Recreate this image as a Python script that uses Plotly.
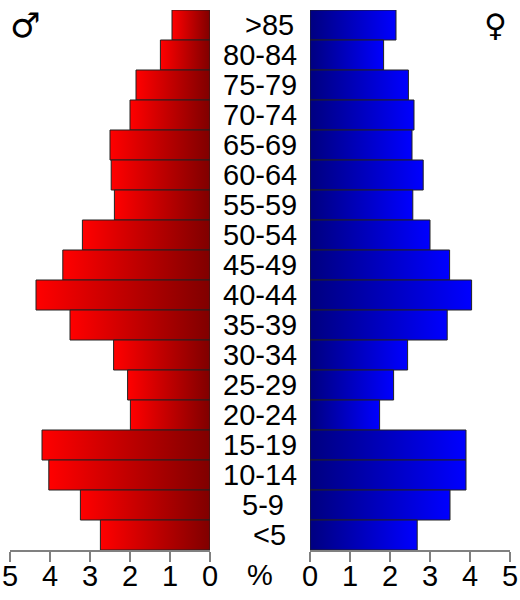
import plotly.graph_objects as go

# age groups, top of the pyramid first
age_groups = [">85", "80-84", "75-79", "70-74", "65-69", "60-64", "55-59", "50-54", "45-49",
              "40-44", "35-39", "30-34", "25-29", "20-24", "15-19", "10-14", "5-9", "<5"]
# percent of population
male = [0.95, 1.24, 1.85, 2.0, 2.5, 2.47, 2.39, 3.19, 3.68,
        4.35, 3.5, 2.41, 2.06, 1.99, 4.2, 4.03, 3.24, 2.74]
female = [2.15, 1.84, 2.46, 2.6, 2.55, 2.83, 2.57, 3.0, 3.49,
          4.04, 3.43, 2.44, 2.09, 1.74, 3.9, 3.9, 3.5, 2.68]
ticks = [0, 1, 2, 3, 4, 5]

FONT = "Liberation Sans, Arial, sans-serif"
fig = go.Figure()


def add_bar(value, row, xaxis, scale):
    # one filled rectangle per bar so every bar gets its own gradient
    y0, y1 = row - 0.5, row + 0.5
    fig.add_trace(go.Scatter(
        x=[0, value, value, 0, 0], y=[y0, y0, y1, y1, y0],
        xaxis=xaxis, yaxis="y", mode="lines", fill="toself",
        line=dict(color="#222222", width=1),
        fillgradient=dict(type="horizontal", colorscale=scale),
        hoverinfo="skip", showlegend=False))


for i, v in enumerate(male):
    add_bar(v, i, "x", [[0, "#ff0000"], [1, "#800000"]])
for i, v in enumerate(female):
    add_bar(v, i, "x2", [[0, "#000080"], [1, "#0000ff"]])

for i, lab in enumerate(age_groups):
    if lab[0] in "<>":
        cx = 269
    elif len(lab) == 3:
        cx = 263
    else:
        cx = 260
    fig.add_annotation(x=(cx - 10) / 500, y=i, xref="paper", yref="y", text=lab,
                       showarrow=False, xanchor="center", yanchor="middle",
                       font=dict(family=FONT, size=29, color="black"))

fig.add_annotation(x=0.5, y=-25 / 540, xref="paper", yref="paper", text="%",
                   showarrow=False, xanchor="center", yanchor="middle",
                   font=dict(family=FONT, size=29, color="black"))
fig.add_annotation(x=(25 - 10) / 500, y=(550 - 25) / 540, xref="paper", yref="paper",
                   text="<b>\u2642</b>", showarrow=False, xanchor="center", yanchor="middle",
                   font=dict(family="DejaVu Sans", size=34, color="black"))
fig.add_annotation(x=(495 - 10) / 500, y=(550 - 25) / 540, xref="paper", yref="paper",
                   text="\u2640", showarrow=False, xanchor="center", yanchor="middle",
                   font=dict(family="DejaVu Sans", size=31, color="black"))

axis_style = dict(tickvals=ticks, ticks="outside", ticklen=10, tickwidth=2, tickcolor="#808080",
                  showline=True, linecolor="#808080", linewidth=2, showgrid=False, zeroline=False,
                  automargin=False, ticklabelstandoff=-11,
                  tickfont=dict(family=FONT, size=29, color="black"), fixedrange=True)

fig.update_layout(
    width=520, height=600,
    margin=dict(l=10, r=10, t=10, b=50),
    paper_bgcolor="white", plot_bgcolor="white",
    xaxis=dict(domain=[0, 0.4], range=[5, 0], anchor="y", **axis_style),
    xaxis2=dict(domain=[0.6, 1], range=[0, 5], anchor="y", **axis_style),
    yaxis=dict(range=[len(age_groups) - 0.5, -0.5], visible=False, fixedrange=True,
               automargin=False),
    showlegend=False,
)

# page body has a default 8px margin; drop it so the figure sits at the window corner
fig.write_html("out.html", config={"displayModeBar": False},
               post_script="document.body.style.margin='0';"
                           "document.body.style.overflow='hidden';")
